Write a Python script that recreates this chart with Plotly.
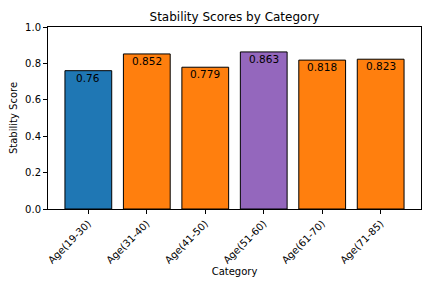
import plotly.graph_objects as go

categories = ["Age(19-30)", "Age(31-40)", "Age(41-50)", "Age(51-60)", "Age(61-70)", "Age(71-85)"]
scores = [0.76, 0.852, 0.779, 0.863, 0.818, 0.823]
labels = ["0.76", "0.852", "0.779", "0.863", "0.818", "0.823"]
colors = ["#1f77b4", "#ff7f0e", "#ff7f0e", "#9467bd", "#ff7f0e", "#ff7f0e"]

x = list(range(len(categories)))

fig = go.Figure()
fig.add_trace(go.Bar(
    x=x, y=scores, width=0.8,
    marker=dict(color=colors, line=dict(color="black", width=1)),
    hoverinfo="skip",
))
for xi, v, t in zip(x, scores, labels):
    fig.add_annotation(x=xi, y=v, text=t, showarrow=False, yanchor="top",
                       yshift=1, font=dict(size=10.5, color="black"))

W, H = 424, 280
fig.update_layout(
    width=W, height=H,
    margin=dict(l=40, r=11, t=19, b=79, autoexpand=False),
    paper_bgcolor="white", plot_bgcolor="white",
    font=dict(family="DejaVu Sans", size=10, color="black"),
    title=dict(text="Stability Scores by Category", x=(40 + 413) / 2 / W, xanchor="center",
               y=1 - 9/H, yanchor="middle", font=dict(size=12)),
    showlegend=False, bargap=0.2,
)
fig.update_xaxes(
    range=[-0.69, 5.69], tickmode="array", tickvals=x, ticktext=categories,
    tickangle=-45, ticks="outside", ticklen=4, tickcolor="black",
    showline=True, linecolor="black", linewidth=1, mirror=True, showgrid=False,
    automargin=False, tickfont=dict(size=10),
    title=dict(text="Category", standoff=2, font=dict(size=10)),
)
fig.update_yaxes(
    range=[0, 1], tickmode="array", tickvals=[0, 0.2, 0.4, 0.6, 0.8, 1.0],
    ticktext=["0.0", "0.2", "0.4", "0.6", "0.8", "1.0"],
    ticks="outside", ticklen=4, tickcolor="black",
    showline=True, linecolor="black", linewidth=1, mirror=True, showgrid=False,
    zeroline=False, automargin=False,
    title=dict(text="Stability Score", standoff=6, font=dict(size=10)),
)

fig.write_html("out.html")
